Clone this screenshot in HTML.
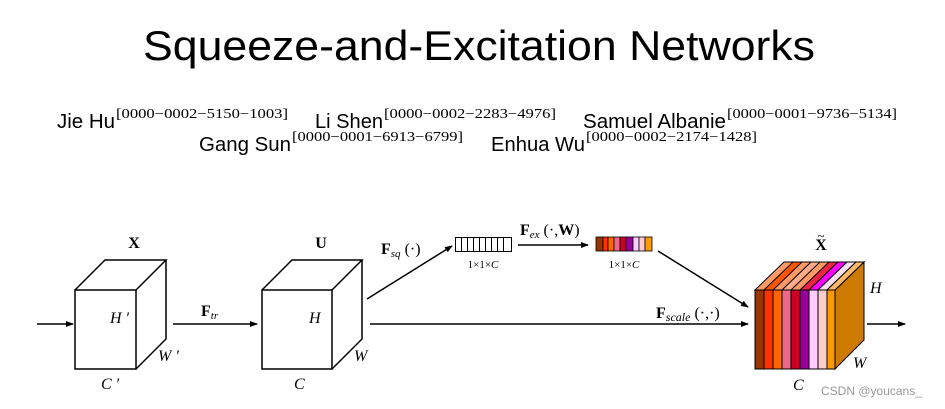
<!DOCTYPE html>
<html><head><meta charset="utf-8"><style>
html,body{margin:0;padding:0;background:#fff;}
svg{display:block}
.n{font-family:"Liberation Sans",sans-serif;font-size:20px;fill:#000}
.s{font-family:"Liberation Serif",serif;font-size:14px;fill:#000}
.m{font-family:"Liberation Serif",serif;fill:#000}
</style></head><body>
<svg width="945" height="409" viewBox="0 0 945 409" xmlns="http://www.w3.org/2000/svg">
<defs><marker id="a" markerWidth="8" markerHeight="6" refX="7" refY="3" orient="auto" markerUnits="userSpaceOnUse"><path d="M0,0 L8,3 L0,6 z" fill="#000"/></marker></defs>
<text x="143" y="60" font-family="Liberation Sans,sans-serif" font-size="42" fill="#000" textLength="672" lengthAdjust="spacingAndGlyphs">Squeeze-and-Excitation Networks</text>
<g>
<text class="n" x="57" y="128" textLength="58" lengthAdjust="spacingAndGlyphs">Jie Hu</text><text class="s" x="116" y="118" textLength="172" lengthAdjust="spacingAndGlyphs">[0000−0002−5150−1003]</text>
<text class="n" x="315" y="128" textLength="68" lengthAdjust="spacingAndGlyphs">Li Shen</text><text class="s" x="384" y="118" textLength="172" lengthAdjust="spacingAndGlyphs">[0000−0002−2283−4976]</text>
<text class="n" x="583" y="128" textLength="143" lengthAdjust="spacingAndGlyphs">Samuel Albanie</text><text class="s" x="727" y="118" textLength="170" lengthAdjust="spacingAndGlyphs">[0000−0001−9736−5134]</text>
<text class="n" x="199" y="151" textLength="92" lengthAdjust="spacingAndGlyphs">Gang Sun</text><text class="s" x="292" y="141" textLength="171" lengthAdjust="spacingAndGlyphs">[0000−0001−6913−6799]</text>
<text class="n" x="491" y="151" textLength="94" lengthAdjust="spacingAndGlyphs">Enhua Wu</text><text class="s" x="586" y="141" textLength="171" lengthAdjust="spacingAndGlyphs">[0000−0002−2174−1428]</text>
</g>
<g stroke="#000" stroke-width="1.5" fill="none">
<rect x="75" y="290" width="61" height="79" fill="#fff"/>
<path d="M75,290 L105,260 L166,260 L136,290 M166,260 L166,339 L136,369"/>
<rect x="262" y="290" width="70" height="79" fill="#fff"/>
<path d="M262,290 L292,260 L362,260 L332,290 M362,260 L362,339 L332,369"/>
<line x1="37" y1="324" x2="73" y2="324" marker-end="url(#a)"/>
<line x1="173" y1="324" x2="257" y2="324" marker-end="url(#a)"/>
<line x1="370" y1="324" x2="748" y2="324" marker-end="url(#a)"/>
<line x1="367" y1="299" x2="452" y2="246" marker-end="url(#a)"/>
<line x1="518" y1="245" x2="588" y2="245" marker-end="url(#a)"/>
<line x1="658" y1="251" x2="748" y2="307" marker-end="url(#a)"/>
<line x1="867" y1="324" x2="905" y2="324" marker-end="url(#a)"/>
</g>
<g stroke="#000" stroke-width="1" fill="#fff">
<rect x="455.5" y="237.5" width="56" height="14"/>
<path d="M461.5,237.5v14M467.5,237.5v14M473.5,237.5v14M479.5,237.5v14M485.5,237.5v14M491.5,237.5v14M497.5,237.5v14M503.5,237.5v14"/>
</g>
<g stroke="#000" stroke-width="0.8">
<rect x="596" y="237" width="7" height="14" fill="#993300"/>
<rect x="603" y="237" width="5" height="14" fill="#ff3300"/>
<rect x="608" y="237" width="6" height="14" fill="#ff6600"/>
<rect x="614" y="237" width="6" height="14" fill="#ee6688"/>
<rect x="620" y="237" width="6" height="14" fill="#cc0022"/>
<rect x="626" y="237" width="7" height="14" fill="#990099"/>
<rect x="633" y="237" width="6" height="14" fill="#ffccff"/>
<rect x="639" y="237" width="6" height="14" fill="#ffcccc"/>
<rect x="645" y="237" width="7" height="14" fill="#ff9900"/>
</g>
<g stroke="#000" stroke-width="1">
<polygon points="835,290 864,262 864,340 835,369" fill="#cc7a00"/>
<polygon points="755,290 784,262 864,262 835,290" fill="#ff9966"/>
<polygon points="764,290 793,262 802,262 773,290" fill="#ff5500"/>
<polygon points="782,290 811,262 820,262 791,290" fill="#ffaa88"/>
<polygon points="800,290 829,262 838,262 809,290" fill="#ee2244"/>
<polygon points="809,290 838,262 847,262 818,290" fill="#ff00ff"/>
<polygon points="818,290 847,262 856,262 827,290" fill="#ffe0f0"/>
<polygon points="827,290 856,262 864,262 835,290" fill="#ffbb66"/>
<rect x="755" y="290" width="9" height="79" fill="#993300"/>
<rect x="764" y="290" width="9" height="79" fill="#ff3300"/>
<rect x="773" y="290" width="9" height="79" fill="#ff6600"/>
<rect x="782" y="290" width="9" height="79" fill="#ee6688"/>
<rect x="791" y="290" width="9" height="79" fill="#cc0022"/>
<rect x="800" y="290" width="9" height="79" fill="#990099"/>
<rect x="809" y="290" width="9" height="79" fill="#ffccff"/>
<rect x="818" y="290" width="9" height="79" fill="#ffcccc"/>
<rect x="827" y="290" width="8" height="79" fill="#ff9900"/>
</g>
<g class="m" font-size="16">
<text x="134" y="248" font-weight="bold" text-anchor="middle">X</text>
<text x="321" y="248" font-weight="bold" text-anchor="middle">U</text>
<text x="821" y="250" font-weight="bold" text-anchor="middle">X</text>
<text x="821" y="240" text-anchor="middle" font-size="13">~</text>
<text x="110" y="323" font-style="italic">H ′</text>
<text x="158" y="361" font-style="italic">W ′</text>
<text x="101" y="389" font-style="italic">C ′</text>
<text x="309" y="323" font-style="italic">H</text>
<text x="354" y="361" font-style="italic">W</text>
<text x="294" y="389" font-style="italic">C</text>
<text x="870" y="293" font-style="italic">H</text>
<text x="853" y="368" font-style="italic">W</text>
<text x="793" y="390" font-style="italic">C</text>
<text x="201" y="316" font-weight="bold">F<tspan font-size="11" font-weight="normal" font-style="italic" dy="3">tr</tspan></text>
<text x="381" y="254" font-weight="bold">F<tspan font-size="11" font-weight="normal" font-style="italic" dy="3">sq</tspan><tspan font-weight="normal" dy="-3"> (·)</tspan></text>
<text x="520" y="235" font-weight="bold">F<tspan font-size="11" font-weight="normal" font-style="italic" dy="3">ex</tspan><tspan font-weight="normal" dy="-3"> (·,</tspan>W<tspan font-weight="normal">)</tspan></text>
<text x="656" y="318" font-weight="bold">F<tspan font-size="12" font-weight="normal" font-style="italic" dy="3">scale</tspan><tspan font-weight="normal" dy="-3"> (·,·)</tspan></text>
<text x="483" y="268" font-size="11" text-anchor="middle">1×1×<tspan font-style="italic">C</tspan></text>
<text x="624" y="268" font-size="11" text-anchor="middle">1×1×<tspan font-style="italic">C</tspan></text>
</g>
<text x="821" y="395" font-family="Liberation Sans,sans-serif" font-size="12" fill="#999">CSDN @youcans_</text>
</svg>
</body></html>
